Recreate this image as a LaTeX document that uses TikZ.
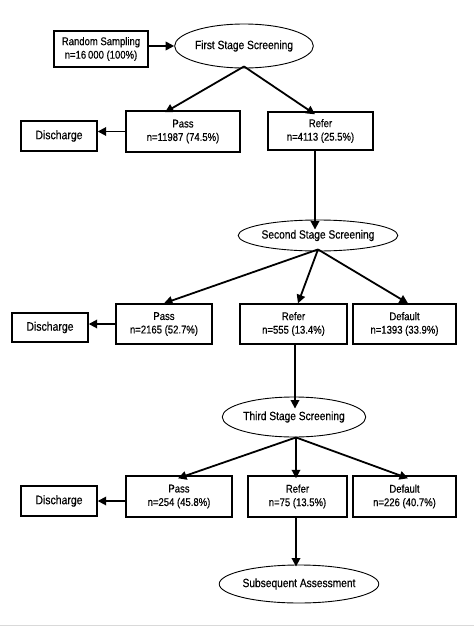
\documentclass[tikz,border=0pt]{standalone}
\usepackage{fontspec}
\setmainfont{Liberation Sans}[FakeStretch=0.85,FakeBold=0.35]
\usetikzlibrary{arrows.meta,shapes.geometric}
\begin{document}
\begin{tikzpicture}[x=1pt,y=-1pt,
  txt/.style={font=\fontsize{11.2}{13.5}\selectfont, align=center, inner sep=0pt},
  box/.style={txt, draw, line width=1.4pt, rectangle},
  dbox/.style={box, font=\fontsize{12.3}{14}\selectfont, minimum width=76pt},
  ell/.style={txt, font=\fontsize{12}{14}\selectfont, draw, line width=0.9pt, ellipse},
  arr/.style={line width=1.8pt, -{Triangle[length=8.5pt,width=8.5pt]}},
  ln/.style={line width=1.8pt}]
\useasboundingbox (0,0) rectangle (474,627);
\fill[white] (0,0) rectangle (474,627);

% stage 1
\node[box, line width=2.2pt, minimum width=94pt, minimum height=36pt] (rs) at (101,49) {Random Sampling\\n=16\,000 (100\%)};
\node[ell, minimum width=127pt, minimum height=44pt] (e1) at (244,46) {First Stage Screening};
\node[box, minimum width=114pt, minimum height=41pt] (p1) at (183,131.5) {Pass\\n=11987 (74.5\%)};
\node[box, minimum width=105pt, minimum height=38pt] (r1) at (320.5,131) {Refer\\n=4113 (25.5\%)};
\node[dbox, minimum height=30pt] (d1) at (59,136) {Discharge};

% stage 2
\node[ell, minimum width=152pt, minimum height=31pt] (e2) at (318,235.5) {Second Stage Screening};
\node[box, minimum width=96pt, minimum height=40pt] (p2) at (164,324) {Pass\\n=2165 (52.7\%)};
\node[box, minimum width=107pt, minimum height=40pt] (r2) at (293.5,324) {Refer\\n=555 (13.4\%)};
\node[box, minimum width=103pt, minimum height=40pt] (f2) at (404.5,324) {Default\\n=1393 (33.9\%)};
\node[dbox, minimum height=29pt] (d2) at (50,327.5) {Discharge};

% stage 3
\node[ell, minimum width=132pt, minimum height=40pt] (e3) at (294,417) {Third Stage Screening};
\node[box, minimum width=106pt, minimum height=41pt] (p3) at (179,496.5) {Pass\\n=254 (45.8\%)};
\node[box, minimum width=99pt, minimum height=41pt] (r3) at (297.5,496.5) {Refer\\n=75 (13.5\%)};
\node[box, minimum width=103pt, minimum height=41pt] (f3) at (404.5,496.5) {Default\\n=226 (40.7\%)};
\node[dbox, minimum height=30pt] (d3) at (59,501) {Discharge};
\node[ell, minimum width=142pt, minimum height=38pt] (sa) at (299,584) {Subsequent Assessment};

% connectors stage 1
\draw[arr] (rs.east |- e1.west) -- (e1.west);
\draw[arr] ([yshift=2pt]e1.south) -- ([xshift=-18pt,yshift=-2pt]p1.north);
\draw[arr] ([yshift=2pt]e1.south) -- ([xshift=-5.5pt,yshift=-3pt]r1.north);
\draw[arr] (p1.west) -- (p1.west -| d1.east);
\draw[arr] ([xshift=-5.5pt]r1.south) -- ([xshift=-5.5pt,yshift=-10pt]r1.south |- e2.north);

% connectors stage 2
\draw[arr] ([yshift=2pt]e2.south) -- (p2.north);
\draw[arr] ([yshift=2pt]e2.south) -- ([xshift=4.5pt]r2.north);
\draw[arr] ([yshift=2pt]e2.south) -- ([xshift=3.5pt]f2.north);
\draw[arr] (p2.west) -- (p2.west -| d2.east);
\draw[arr] ([xshift=1.5pt]r2.south) -- ([xshift=1.5pt,yshift=-12pt]r2.south |- e3.north);

% connectors stage 3
\draw[arr] ([xshift=2pt]e3.south) -- ([xshift=-1pt,yshift=-3pt]p3.north);
\draw[arr] ([xshift=2pt]e3.south) -- ([xshift=-1.5pt,yshift=-3pt]r3.north);
\draw[arr] ([xshift=2pt]e3.south) -- ([xshift=3.5pt,yshift=-3pt]f3.north);
\draw[arr] (p3.west |- d3.east) -- (d3.east);
\draw[arr] ([xshift=-1.5pt]r3.south) -- ([xshift=-1.5pt,yshift=-2pt]r3.south |- sa.north);

% faint bottom edge
\coordinate (bl) at (0,625);
\coordinate (br) at (474,625);
\draw[gray!30, line width=0.6pt] (bl) -- (br);
\end{tikzpicture}
\end{document}
